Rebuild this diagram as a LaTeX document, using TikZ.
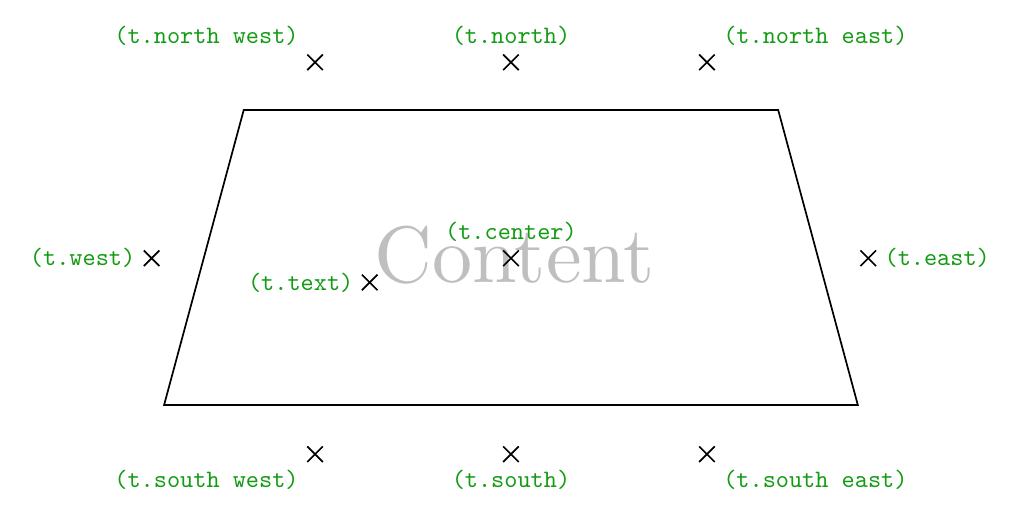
\documentclass[tikz,border=0pt]{standalone}
\usepackage{tikz}
\usetikzlibrary{shapes.misc}
\definecolor{anchor_green}{RGB}{20, 155, 20}

\begin{document}
\begin{tikzpicture}[
            anchormark/.style={cross out, draw, line width=0.7pt, inner sep=0pt,
                        minimum size=0.2cm},
            anchorlbl/.style={font=\fontsize{10.3}{12}\ttfamily, text=anchor_green}]
            \useasboundingbox (-7.38,-3.73) rectangle (7.41,3.73);
            % the shape
            \draw[line width=0.7pt] (-3.86,2.14) -- (3.86,2.14) -- (5.01,-2.12)
              -- (-5.01,-2.12) -- cycle;
            \node[anchor=base west, inner sep=0pt, text=black!25, scale=3.29]
              (content) at (-1.99,-0.35) {Content};
            % anchors
            \node[anchormark, label={[anchorlbl]above left:(t.north west)}]
              (nw) at (-2.83, 2.83) {};
            \node[anchormark, label={[anchorlbl]above:(t.north)}]
              (n) at (0, 2.83) {};
            \node[anchormark, label={[anchorlbl]above right:(t.north east)}]
              (ne) at (2.83, 2.83) {};
            \node[anchormark, label={[anchorlbl]left:(t.west)}]
              (w) at (-5.19, 0) {};
            \node[anchormark, label={[anchorlbl]above:(t.center)}]
              (c) at (0, 0) {};
            \node[anchormark, label={[anchorlbl]right:(t.east)}]
              (e) at (5.16, 0) {};
            \node[anchormark, label={[anchorlbl]left:(t.text)}]
              (txt) at (-2.04,-0.35) {};
            \node[anchormark, label={[anchorlbl]below left:(t.south west)}]
              (sw) at (-2.83,-2.83) {};
            \node[anchormark, label={[anchorlbl]below:(t.south)}]
              (s) at (0,-2.83) {};
            \node[anchormark, label={[anchorlbl]below right:(t.south east)}]
              (se) at (2.83,-2.83) {};
          \end{tikzpicture}
\end{document}
